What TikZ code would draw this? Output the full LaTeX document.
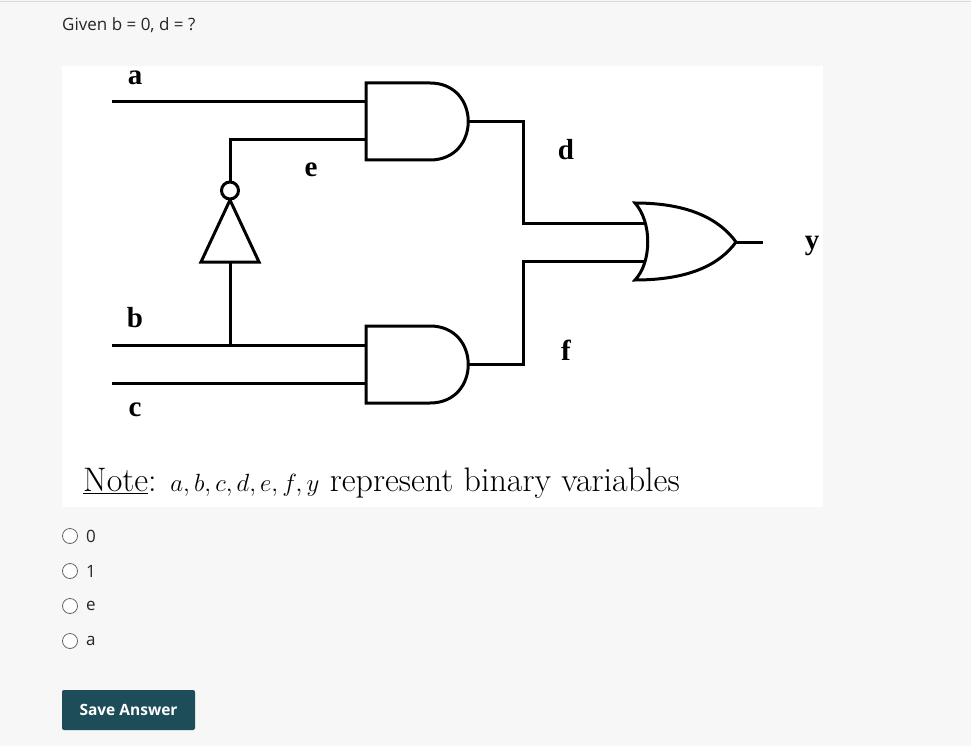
\documentclass[tikz,border=0pt]{standalone}
\usepackage{fontspec}
\setsansfont{Open Sans}
\newfontfamily\tnr{Liberation Serif}
\begin{document}
\begin{tikzpicture}[x=1pt,y=-1pt,
  wire/.style={line width=3pt,line join=miter},
  lbl/.style={font=\tnr\fontsize{29}{31}\selectfont\bfseries},
  ui/.style={font=\sffamily\fontsize{17}{19}\selectfont,text=black!85,anchor=west,inner sep=0pt},
  radio/.style={draw=black!60,line width=0.8pt,fill=white}]
\useasboundingbox (0,0) rectangle (971,746);
\fill[black!3] (0,0) rectangle (971,746);
\draw[black!15] (0,1) -- (971,1);
\fill[white] (62,66) rectangle (823,507);
\node[ui] (q) at (62,25) {Given b = 0, d = ?};
% coordinates
\coordinate (a0) at (112,102); \coordinate (a1) at (366,102);
\coordinate (e1) at (366,140); \coordinate (e0) at (230,140);
\coordinate (b0) at (112,345); \coordinate (b1) at (366,345);
\coordinate (c0) at (112,383); \coordinate (c1) at (366,383);
\coordinate (bj) at (230,345);
\coordinate (d0) at (467,122); \coordinate (d1) at (523,122); \coordinate (d2) at (523,223); \coordinate (d3) at (645,223);
\coordinate (f0) at (467,364); \coordinate (f1) at (523,364); \coordinate (f2) at (523,261); \coordinate (f3) at (645,261);
\coordinate (y0) at (736,242); \coordinate (y1) at (763,242);
% wires
\draw[wire] (a0) -- (a1);
\draw[wire] (b0) -- (b1);
\draw[wire] (c0) -- (c1);
\draw[wire] (e1) -| (230,181);
\draw[wire] (bj) -- (230,262);
\draw[wire] (d0) -- (d1) -- (d2) -- (d3);
\draw[wire] (f0) -- (f1) -- (f2) -- (f3);
\draw[wire] (y0) -- (y1);
% NOT gate
\draw[wire,fill=white] (230,200) -- (201,262) -- (259,262) -- cycle;
\draw[wire,fill=white] (230,190.5) circle (8.5);
% AND gates
\draw[wire,fill=white] (366,83) -- (430,83) .. controls (481,83) and (481,160) .. (430,160) -- (366,160) -- cycle;
\draw[wire,fill=white] (366,326) -- (430,326) .. controls (481,326) and (481,403) .. (430,403) -- (366,403) -- cycle;
% OR gate
\draw[wire,fill=white] (635,203) .. controls (690,203) and (720,220) .. (736,242)
  .. controls (720,264) and (690,280) .. (635,280)
  .. controls (652,262) and (652,222) .. cycle;
% labels
\node[lbl] (la) at (135,78) {a};
\node[lbl] (lb) at (135,318) {b};
\node[lbl] (lc) at (135,410) {c};
\node[lbl] (ld) at (566,150) {d};
\node[lbl] (le) at (311,170) {e};
\node[lbl] (lf) at (566,350) {f};
\node[lbl] (ly) at (812,246) {y};
\node[anchor=west,inner sep=0pt,font=\fontsize{34}{36}\selectfont] (note) at (83,483)
  {\underline{Note}: $a,b,c,d,e,f,y$ represent binary variables};
% options
\foreach \t/\yy [count=\i] in {0/536,1/571,e/606,a/641}{
  \draw[radio] (70,\yy) circle (7.5);
  \node[ui] (o\i) at (86,\yy) {\t};
}
\fill[rounded corners=2pt,fill={rgb,255:red,30;green,77;blue,90}] (62,690) rectangle (195,730);
\node[font=\sffamily\bfseries\fontsize{15.5}{17}\selectfont,text=white] (btn) at (128.5,710) {Save Answer};
\end{tikzpicture}
\end{document}
